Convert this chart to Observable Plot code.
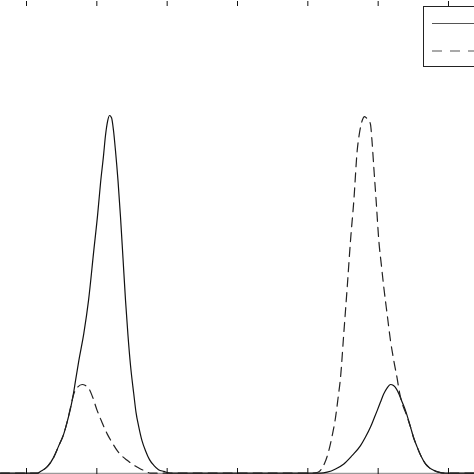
<!DOCTYPE html>
<html>
<head>
<meta charset="utf-8">
<script src="https://cdn.jsdelivr.net/npm/d3@7"></script>
<script src="https://cdn.jsdelivr.net/npm/@observablehq/plot@0.6"></script>
<style>
  html, body { margin: 0; padding: 0; background: #fff; overflow: hidden; }
  #wrap { position: relative; width: 474px; height: 474px; overflow: hidden; }
  #wrap svg.plot { display: block; }
  #legend { position: absolute; left: 423px; top: 6px; width: 90px; height: 59px;
            border: 1.5px solid #222; background: #fff; }
</style>
</head>
<body>
<div id="wrap"></div>
<script>
// tick positions on x (labels cropped out of the reference)
const xTicks = [0, 1, 2, 3, 4, 5, 6];

// solid series
const solidX = [-0.370, 0.156, 0.199, 0.299, 0.388, 0.455, 0.530, 0.583, 0.626, 0.668, 0.697, 0.744, 0.815, 0.882, 0.957, 1.010, 1.052, 1.095, 1.123, 1.152, 1.180, 1.209, 1.237, 1.265, 1.301, 1.337, 1.372, 1.408, 1.443, 1.479, 1.525, 1.557, 1.597, 1.642, 1.692, 1.749, 1.810, 1.877, 1.952, 2.048,
  4.180, 4.275, 4.394, 4.512, 4.628, 4.749, 4.820, 4.891, 4.941, 4.986, 5.033, 5.080, 5.126, 5.175, 5.218, 5.261, 5.294, 5.339, 5.389, 5.460, 5.503, 5.555, 5.609, 5.673, 5.730, 5.791, 5.858, 5.958, 6.370];
const solidY = [0, 0, 0.005, 0.019, 0.045, 0.075, 0.110, 0.147, 0.181, 0.223, 0.259, 0.315, 0.391, 0.483, 0.623, 0.720, 0.810, 0.888, 0.944, 0.983, 1.000, 0.994, 0.958, 0.902, 0.818, 0.715, 0.601, 0.483, 0.385, 0.301, 0.222, 0.170, 0.129, 0.091, 0.063, 0.038, 0.022, 0.010, 0.005, 0,
  0, 0.003, 0.012, 0.026, 0.049, 0.077, 0.101, 0.129, 0.153, 0.175, 0.199, 0.222, 0.238, 0.248, 0.245, 0.235, 0.222, 0.200, 0.175, 0.129, 0.100, 0.073, 0.048, 0.026, 0.015, 0.008, 0.003, 0, 0];

// dashed series
const dashedX = [-0.370, 0.156, 0.199, 0.299, 0.388, 0.455, 0.530, 0.583, 0.626, 0.673, 0.725, 0.792, 0.839, 0.886, 0.938, 1.005, 1.074, 1.147, 1.216, 1.290, 1.358, 1.432, 1.521, 1.621, 1.692, 1.763,
  4.038, 4.133, 4.180, 4.237, 4.298, 4.344, 4.394, 4.429, 4.465, 4.511, 4.560, 4.607, 4.654, 4.702, 4.735, 4.773, 4.806, 4.834, 4.863, 4.891, 4.912, 4.938, 4.974, 5.009, 5.045, 5.080, 5.128, 5.175, 5.222, 5.270, 5.303, 5.341, 5.389, 5.460, 5.503, 5.555, 5.609, 5.673, 5.730, 5.791, 5.858, 5.958, 6.370];
const dashedY = [0, 0, 0.005, 0.019, 0.045, 0.075, 0.110, 0.147, 0.184, 0.222, 0.240, 0.248, 0.245, 0.237, 0.214, 0.175, 0.142, 0.110, 0.086, 0.063, 0.048, 0.036, 0.023, 0.012, 0.006, 0,
  0, 0.002, 0.008, 0.027, 0.063, 0.103, 0.156, 0.209, 0.268, 0.390, 0.520, 0.651, 0.762, 0.902, 0.952, 0.986, 0.997, 0.993, 0.989, 0.975, 0.930, 0.855, 0.754, 0.651, 0.583, 0.520, 0.444, 0.371, 0.315, 0.265, 0.226, 0.195, 0.170, 0.129, 0.100, 0.073, 0.048, 0.026, 0.015, 0.008, 0.003, 0, 0];

const solid = solidX.map((x, i) => ({x, y: solidY[i]}));
const dashed = dashedX.map((x, i) => ({x, y: dashedY[i]}));

const chart = Plot.plot({
  width: 474,
  height: 474,
  margin: 0,
  x: {domain: [-0.3697, 6.3697], axis: null},
  y: {domain: [-0.0036, 1.3215], axis: null},
  marks: [
    Plot.ruleY([0], {stroke: "#9a9a9a", strokeWidth: 2, dy: 0.6}),
    Plot.axisX(xTicks, {anchor: "top", tickSize: -5, tickFormat: () => "", label: null, stroke: "#111"}),
    Plot.axisX(xTicks, {anchor: "bottom", tickSize: -6, tickFormat: () => "", label: null, stroke: "#111"}),
    Plot.line(solid, {x: "x", y: "y", stroke: "#111", strokeWidth: 1.2, curve: "monotone-x"}),
    Plot.line(dashed, {x: "x", y: "y", stroke: "#222", strokeWidth: 1.2, strokeDasharray: "9,6", curve: "monotone-x"})
  ]
});
const wrap = document.getElementById("wrap");
wrap.appendChild(chart);

// legend (labels are cropped out of the reference)
const legend = document.createElement("div");
legend.id = "legend";
legend.innerHTML = `<svg width="90" height="59">
  <line x1="8" x2="90" y1="16.5" y2="16.5" stroke="#555" stroke-width="1.2"/>
  <line x1="8" x2="90" y1="44" y2="44" stroke="#555" stroke-width="1.2" stroke-dasharray="10,8"/>
</svg>`;
wrap.appendChild(legend);
</script>
</body>
</html>
